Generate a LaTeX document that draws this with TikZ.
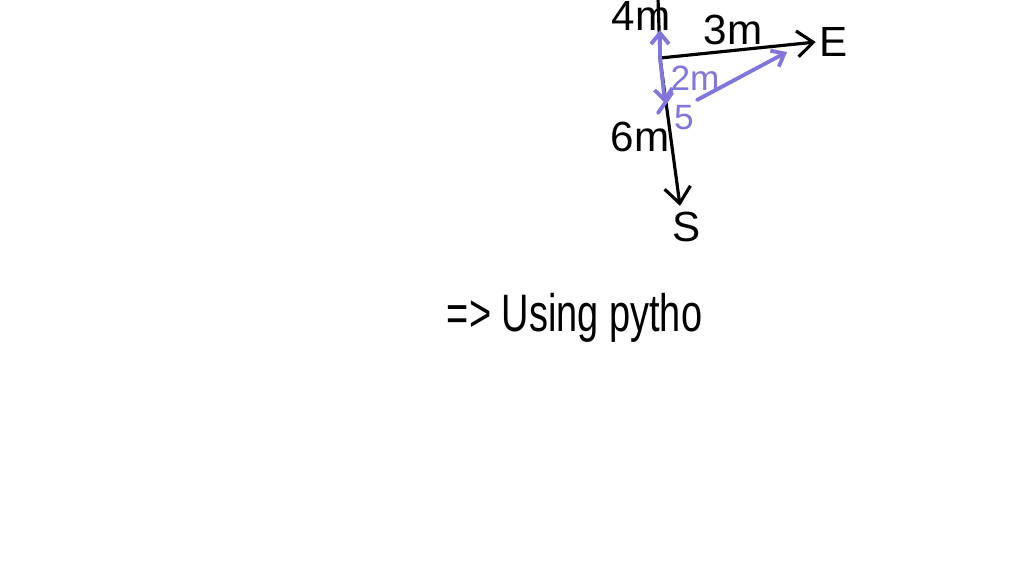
\documentclass[tikz,border=0pt]{standalone}
\usepackage{fontspec}
\setmainfont{Liberation Sans}
\usepackage{tikz}
\usetikzlibrary{arrows.meta, positioning, calc}

\definecolor{penpurple}{RGB}{128,118,222}

\begin{document}
\begin{tikzpicture}[
  ink/.style={line width=0.9pt, line cap=round},
  tip/.style={-{Straight Barb[length=1.6mm, width=2.6mm]}},
  ptip/.style={-{Straight Barb[length=1.1mm, width=1.8mm]}},
  lbl/.style={font=\large, inner sep=1pt},
  plbl/.style={font=\normalsize, text=penpurple, inner sep=1pt},
  pen/.style={draw=penpurple, line width=1.1pt, line cap=round}]
\useasboundingbox (0,0) rectangle (10.24,-5.76);

\coordinate (O) at (6.60,-0.58);
\coordinate (top) at (6.58,0.02);
\coordinate (north) at (6.60,-0.30);
\coordinate (P) at (6.65,-1.03);
\coordinate (Ptip) at (7.87,-0.52);
\coordinate (Ptail) at (6.97,-1.00);
\node [lbl] (E) at (8.34,-0.42) {E};
\node [lbl] (S) at (6.87,-2.27) {S};

\node [lbl] (four) at (6.41,-0.16) {4m};
\node [lbl] (three) at (7.33,-0.30) {3m};
\node [lbl] (six) at (6.40,-1.37) {6m};
\node [plbl] (two) at (6.95,-0.78) {2m};
\node [plbl] (five) at (6.84,-1.18) {5};

% axes
\draw [ink] (top) -- (O);
\draw [ink, tip] (O) -- (E.west);
\draw [ink, tip] (O) -- ($(S.north)+(-0.07,0.02)$);

% walk
\draw [pen, ptip] (O) -- (north);
\draw [pen, ptip] (O) -- (P);
\draw [pen] ($(P)+(-0.07,-0.10)$) -- ($(P)+(0.07,0.10)$);
\draw [pen, ptip] (Ptail) -- (Ptip);

\node [font=\fontsize{15}{17}\selectfont, xscale=0.72, transform shape, anchor=west] (using) at (4.38,-3.18) {=> Using pytho};
\end{tikzpicture}
\end{document}
